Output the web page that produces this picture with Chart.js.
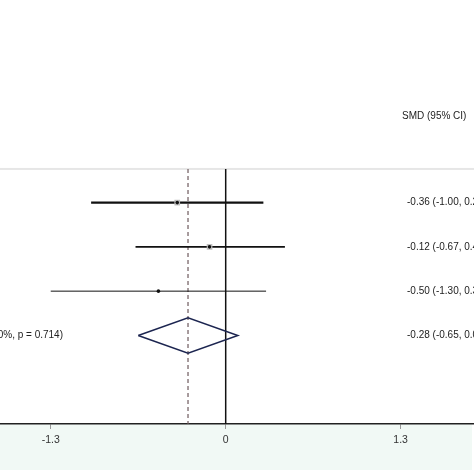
<!DOCTYPE html>
<html>
<head>
<meta charset="utf-8">
<script src="https://cdn.jsdelivr.net/npm/chart.js@4"></script>
<style>
    html, body { margin: 0; padding: 0; background: #fff; }
    #wrap { width: 474px; height: 474px; }
</style>
</head>
<body>
<div id="wrap"><canvas id="chart"></canvas></div>
<script>
// rows top to bottom
const rows = [1, 2, 3];
const smd = [-0.36, -0.12, -0.50];
const lower = [-1.00, -0.67, -1.30];
const upper = [0.28, 0.44, 0.30];
const overall = [-0.28, -0.65, 0.09];
const overallLabel = 'Overall (I-squared = 0.0%, p = 0.714)';
const xTicks = [-1.3, 0, 1.3];

const lineWidths = [2.2, 1.8, 1];
const boxSizes = [4, 4, 0];
const FONT = '"Liberation Sans", Arial, sans-serif';

const fmt = (v) => v.toFixed(2);

const ciSets = rows.map((r, i) => ({
    type: 'line',
    data: [{ x: lower[i], y: r }, { x: upper[i], y: r }],
    borderColor: '#111',
    borderWidth: lineWidths[i],
    pointRadius: 0,
    order: 3,
}));

const overallRow = 4;
const diamond = {
    type: 'line',
    data: [
        { x: overall[1], y: overallRow },
        { x: overall[0], y: overallRow - 0.4 },
        { x: overall[2], y: overallRow },
        { x: overall[0], y: overallRow + 0.4 },
        { x: overall[1], y: overallRow },
    ],
    borderColor: '#1c2550',
    borderWidth: 1.5,
    pointRadius: 0,
    tension: 0,
    order: 3,
};

const refLines = [
    {
        type: 'line',
        data: [{ x: overall[0], y: 0.24 }, { x: overall[0], y: 6 }],
        borderColor: '#6e5a5e',
        borderWidth: 1.2,
        borderDash: [4, 3],
        pointRadius: 0,
        order: 4,
    },
    {
        type: 'line',
        data: [{ x: 0, y: 0.24 }, { x: 0, y: 6 }],
        borderColor: '#111',
        borderWidth: 1.5,
        pointRadius: 0,
        order: 4,
    },
];

const boxes = {
    type: 'scatter',
    data: rows.map((r, i) => ({ x: smd[i], y: r })),
    pointStyle: 'rect',
    pointRadius: boxSizes,
    backgroundColor: '#bdbdbd',
    borderWidth: 0,
    order: 2,
};

const dots = {
    type: 'scatter',
    data: rows.map((r, i) => ({ x: smd[i], y: r })),
    pointRadius: 1.8,
    backgroundColor: '#111',
    borderWidth: 0,
    order: 1,
};

const decor = {
    id: 'decor',
    beforeDraw(chart) {
        const { ctx, chartArea } = chart;
        ctx.save();
        ctx.fillStyle = '#f1f9f5';
        ctx.fillRect(0, chartArea.bottom, 472, 470 - chartArea.bottom);
        const yS = chart.scales.y;
        ctx.fillStyle = '#e6e6e6';
        ctx.fillRect(0, yS.getPixelForValue(0.24) - 1, 474, 2);
        ctx.restore();
    },
    afterDraw(chart) {
        const { ctx } = chart;
        const yS = chart.scales.y;
        ctx.save();
        ctx.font = '10px ' + FONT;
        ctx.fillStyle = '#222';
        ctx.textBaseline = 'middle';
        ctx.textAlign = 'left';
        ctx.fillText('SMD (95% CI)', 402, yS.getPixelForValue(-0.95));
        rows.forEach((r, i) => {
            ctx.fillText(`${fmt(smd[i])} (${fmt(lower[i])}, ${fmt(upper[i])})`, 407, yS.getPixelForValue(r));
        });
        ctx.fillText(`${fmt(overall[0])} (${fmt(overall[1])}, ${fmt(overall[2])})`, 407, yS.getPixelForValue(overallRow));
        ctx.textAlign = 'right';
        ctx.fillText(overallLabel, 63, yS.getPixelForValue(overallRow));
        ctx.restore();
    },
};

new Chart(document.getElementById('chart'), {
    type: 'scatter',
    data: { datasets: [...refLines, ...ciSets, diamond, boxes, dots] },
    options: {
        responsive: true,
        maintainAspectRatio: false,
        animation: false,
        layout: { padding: 0, autoPadding: false },
        plugins: { legend: { display: false }, tooltip: { enabled: false } },
        scales: {
            x: {
                type: 'linear',
                min: -1.677,
                max: 1.845,
                afterBuildTicks: (scale) => { scale.ticks = xTicks.map((v) => ({ value: v })); },
                afterFit: (scale) => { scale.height = 50; },
                grid: { drawOnChartArea: false, tickLength: 5, tickColor: '#999' },
                border: { display: true, color: '#222', width: 1.5 },
                ticks: {
                    font: { family: FONT, size: 10.5 },
                    color: '#333',
                    padding: 5,
                    maxRotation: 0,
                    callback: (v) => String(v),
                },
            },
            y: {
                type: 'linear',
                display: false,
                reverse: true,
                min: -3.575,
                max: 6,
            },
        },
    },
    plugins: [decor],
});
</script>
</body>
</html>
